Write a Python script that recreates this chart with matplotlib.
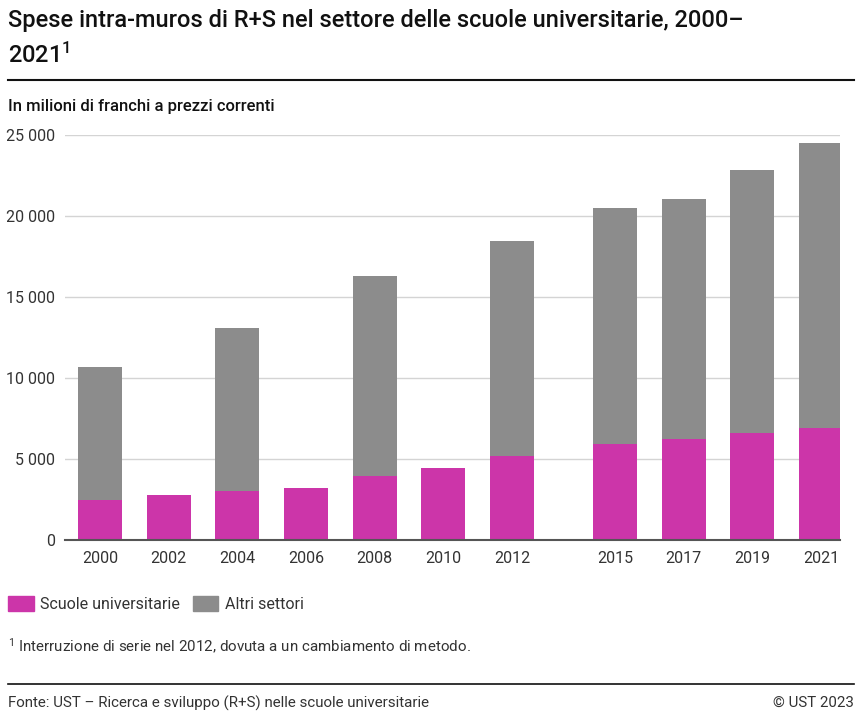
import matplotlib.pyplot as plt
from matplotlib.lines import Line2D
from matplotlib.patches import Patch
from matplotlib.ticker import FuncFormatter

plt.rcParams['font.family'] = ['Roboto', 'DejaVu Sans']
plt.rcParams['mathtext.fontset'] = 'custom'
plt.rcParams['mathtext.rm'] = 'Roboto'
plt.rcParams['mathtext.it'] = 'Roboto'
plt.rcParams['mathtext.bf'] = 'Roboto:medium'

# data (milioni di franchi)
years = [2000, 2002, 2004, 2006, 2008, 2010, 2012, 2015, 2017, 2019, 2021]
scuole = [2450, 2780, 3020, 3200, 3950, 4440, 5190, 5930, 6230, 6600, 6910]
altri = [8200, 0, 10070, 0, 12350, 0, 13270, 14570, 14820, 16240, 17590]
yticks = [0, 5000, 10000, 15000, 20000, 25000]

c_scuole = '#cc35a9'
c_altri = '#8c8c8c'

W, H = 862, 721
fig = plt.figure(figsize=(W / 100, H / 100), dpi=100)

def fx(px):
    return px / W

def fy(py):
    return 1 - py / H

# axes area in pixels: x 65..840, y 135..540
ax = fig.add_axes([fx(65), fy(540), fx(840) - fx(65), fy(135) - fy(540)])
ax.bar(years, scuole, width=1.28, color=c_scuole, zorder=3)
ax.bar(years, altri, width=1.28, bottom=scuole, color=c_altri, zorder=3)

ax.set_xlim(1998.98, 2021.55)
ax.set_ylim(0, 25000)
ax.set_yticks(yticks)
ax.yaxis.set_major_formatter(FuncFormatter(lambda v, p: f"{int(v):,}".replace(",", " ")))
ax.set_xticks(years)
ax.set_xticklabels([str(y) for y in years])
ax.grid(axis='y', color='#d4d4d4', linewidth=1, zorder=0)
ax.tick_params(axis='both', length=0, labelsize=11.5, labelcolor='#333333')
ax.tick_params(axis='x', pad=8)
ax.tick_params(axis='y', pad=7)
for s in ['top', 'right', 'left']:
    ax.spines[s].set_visible(False)
ax.spines['bottom'].set_color('#555555')
ax.spines['bottom'].set_linewidth(1.5)
ax.spines['bottom'].set_zorder(4)

# title block
fig.text(fx(8), fy(21), "Spese intra-muros di R+S nel settore delle scuole universitarie, 2000\u2013",
         fontsize=17, fontweight='medium', va='center', ha='left', color='#111111')
fig.text(fx(8), fy(55), r"2021$^{\mathbf{1}}$", fontsize=17, fontweight='medium', va='center',
         ha='left', color='#111111')
fig.add_artist(Line2D([fx(8), fx(854)], [fy(80), fy(80)], color='#111111', linewidth=1.5))
fig.text(fx(8), fy(107), "In milioni di franchi a prezzi correnti", fontsize=12,
         fontweight='medium', va='center', ha='left', color='#111111')

# legend
handles = [Patch(color=c_scuole, label='Scuole universitarie'),
           Patch(color=c_altri, label='Altri settori')]
fig.legend(handles=handles, loc='center left', bbox_to_anchor=(fx(8), fy(604)), ncol=2,
           frameon=False, fontsize=11.5, handlelength=1.6, handleheight=1.1, borderpad=0,
           borderaxespad=0, handletextpad=0.4, columnspacing=0.8, labelcolor='#333333')

# footnote and source
fig.text(fx(8), fy(646), r"$^{1}$ Interruzione di serie nel 2012, dovuta a un cambiamento di metodo.",
         fontsize=10.9, va='center', ha='left', color='#333333')
fig.add_artist(Line2D([fx(8), fx(854)], [fy(684), fy(684)], color='#111111', linewidth=1.2))
fig.text(fx(8), fy(703), "Fonte: UST \u2013 Ricerca e sviluppo (R+S) nelle scuole universitarie",
         fontsize=10.9, va='center', ha='left', color='#333333')
fig.text(fx(854), fy(703), "\u00a9 UST 2023", fontsize=10.9, va='center', ha='right', color='#333333')

fig.savefig('out.png', dpi=100)
